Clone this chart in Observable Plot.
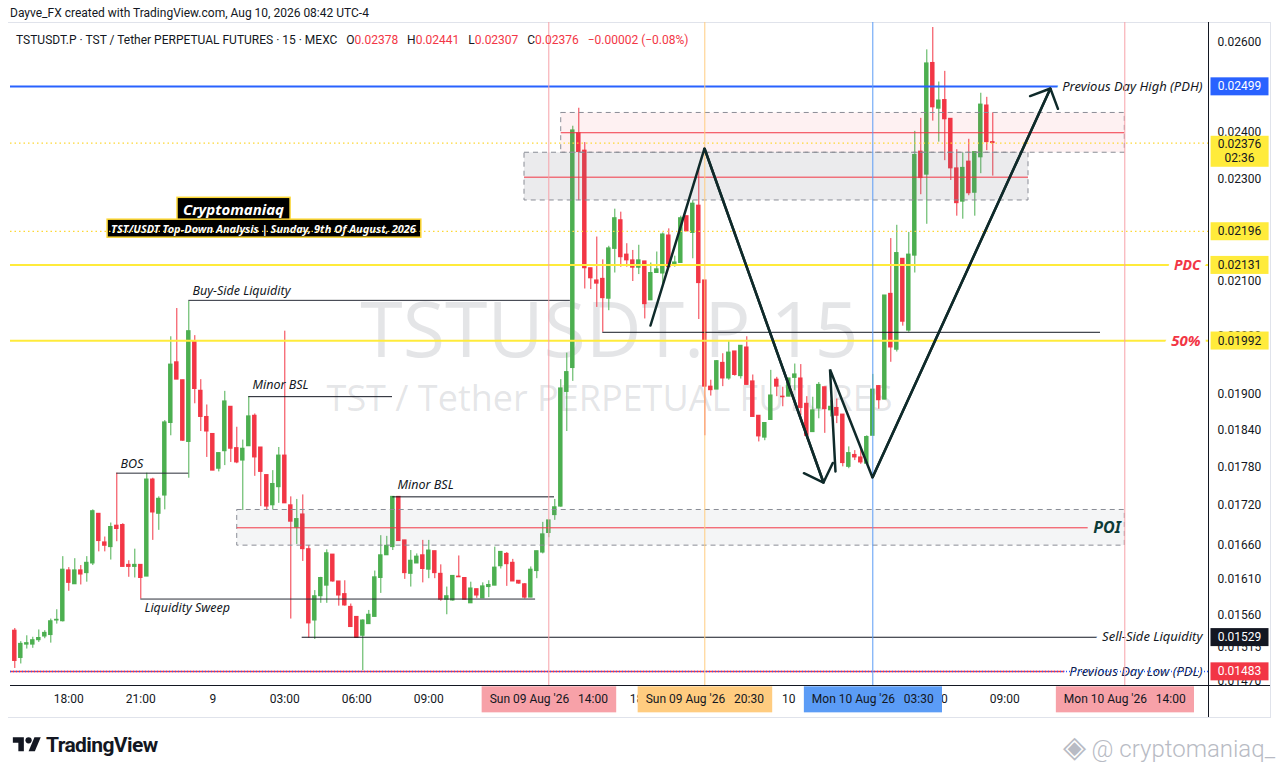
<!DOCTYPE html>
<html><head><meta charset="utf-8">
<script src="https://cdn.jsdelivr.net/npm/d3@7"></script>
<script src="https://cdn.jsdelivr.net/npm/@observablehq/plot@0.6"></script>
<style>
body{margin:0;width:1281px;height:774px;background:#fff;overflow:hidden;position:relative;font-family:Roboto,"Noto Sans",sans-serif;color:#131722}
#credit{position:absolute;left:10px;top:6px;font-size:12px;white-space:nowrap}
#chart{position:absolute;left:0;top:22px}
#sym{position:absolute;left:16px;top:33px;font-size:12px;white-space:pre}
#sym .r{color:#f23645}
.ln{position:absolute;background:#131722}
.lg{position:absolute;background:#e0e3eb}
#tv{position:absolute;left:12px;top:733px;display:flex;align-items:center;gap:4px;font-weight:700;font-size:21px;letter-spacing:-0.6px}
#wm{position:absolute;right:6px;top:729px;font-size:24px;font-weight:300;color:#b8bbc4;white-space:nowrap}
</style></head><body>
<div id="credit">Dayve_FX created with TradingView.com, Aug 10, 2026 08:42 UTC-4</div>
<div class="lg" style="left:8px;top:22px;width:1263px;height:1px"></div>
<div class="lg" style="left:1270px;top:22px;width:1px;height:696px"></div>
<div class="lg" style="left:8px;top:717px;width:1263px;height:1px"></div>
<div id="chart"></div>
<div class="ln" style="left:10px;top:685px;width:1260px;height:1px"></div>
<div class="ln" style="left:1208px;top:22px;width:1px;height:695px"></div>
<div id="sym">TSTUSDT.P · TST / Tether PERPETUAL FUTURES · 15 · MEXC   O<span class="r">0.02378</span>   H<span class="r">0.02441</span>   L<span class="r">0.02307</span>   C<span class="r">0.02376</span>   <span class="r">−0.00002 (−0.08%)</span></div>
<div id="tv"><svg width="30" height="22" viewBox="0 0 36 28"><path d="M14 22H7V11H0V4h14v18z" fill="#131722"/><circle cx="20" cy="8" r="4" fill="#131722"/><path d="M28 22h-8l7.5-18h8L28 22z" fill="#131722"/></svg><span>TradingView</span></div>
<div id="wm"><span style="font-size:30px">◈</span> @ cryptomaniaq_</div>
<script>
// ---- candle data (15m, first candle Aug 8 2026 15:45) ----
const open = [.01538,.01501,.01519,.01519,.01525,.01530,.01532,.01552,.01551,.01623,.01603,.01623,.01619,.01633,.01707,.01664,.01657,.01689,.01690,.01631,.01628,.01631,.01614,.01760,.01707,.01735,.01851,.01954,.01923,.01820,.01991,.01905,.01861,.01833,.01777,.01805,.01878,.01810,.01790,.01813,
.01863,.01811,.01767,.01720,.01748,.01798,.01720,.01686,.01706,.01654,.01552,.01586,.01601,.01646,.01607,.01589,.01571,.01557,.01531,.01547,.01557,.01612,.01645,.01657,.01733,.01667,.01618,.01633,.01645,.01624,
.01651,.01618,.01581,.01580,.01614,.01612,.01576,.01596,.01583,.01599,.01601,.01629,.01647,.01634,.01608,.01603,.01584,.01622,.01649,.01678,.01705,.01718,.01903,.01944,.02397,.02360,.02125,.02102,.02105,.02068,
.02162,.02218,.02151,.02140,.02126,.02138,.02065,.02116,.02115,.02188,.02132,.02135,.02226,.02193,.02247,.02102,.01912,.01907,.01953,.01926,.01973,.01930,.01980,.01921,.01863,.01827,.01856,.01924,.01895,.01895,
.01927,.01926,.01883,.01836,.01875,.01911,.01872,.01876,.01865,.01780,.01799,.01795,.01785,.01830,.01913,.01890,.02077,.01976,.02143,.02010,.02149,.02358,.02310,.02552,.02450,.02469,.02428,.02323,.02255,.02337,
.02273,.02346,.02457,.02378];
const high = [.01541,.01523,.01531,.01529,.01539,.01538,.01554,.01567,.01643,.01627,.01640,.01630,.01643,.01713,.01707,.01672,.01693,.01770,.01692,.01637,.01654,.01631,.01770,.01762,.01733,.01855,.01999,.02050,.01923,.02063,.02001,.01924,.01881,.01833,.01802,.01904,.01878,.01844,.01823,.01895,
.01866,.01811,.01767,.01774,.01811,.02009,.01733,.01729,.01736,.01659,.01594,.01613,.01653,.01646,.01607,.01608,.01575,.01557,.01553,.01566,.01622,.01674,.01673,.01733,.01733,.01667,.01652,.01647,.01667,.01667,
.01651,.01631,.01599,.01615,.01644,.01612,.01606,.01596,.01605,.01608,.01657,.01650,.01649,.01639,.01608,.01604,.01628,.01651,.01694,.01697,.01729,.01924,.01970,.02412,.02451,.02377,.02125,.02185,.02141,.02167,
.02240,.02234,.02172,.02159,.02169,.02138,.02135,.02156,.02193,.02201,.02148,.02226,.02226,.02257,.02329,.02102,.01923,.01957,.01969,.01992,.01973,.01983,.01999,.01932,.01863,.01851,.01940,.01928,.01911,.01926,
.01951,.01950,.01895,.01894,.01919,.01911,.01889,.01891,.01865,.01812,.01806,.01810,.01830,.01933,.01914,.02074,.02182,.02208,.02143,.02194,.02401,.02429,.02582,.02634,.02509,.02533,.02428,.02362,.02355,.02384,
.02357,.02484,.02475,.02441];
const low = [.01487,.01493,.01513,.01514,.01522,.01527,.01521,.01547,.01550,.01593,.01603,.01602,.01606,.01630,.01650,.01650,.01638,.01665,.01628,.01613,.01612,.01582,.01614,.01667,.01682,.01713,.01830,.01924,.01821,.01762,.01883,.01837,.01795,.01774,.01772,.01782,.01787,.01785,.01712,.01813,
.01765,.01718,.01712,.01713,.01723,.01723,.01554,.01661,.01636,.01528,.01526,.01576,.01576,.01606,.01572,.01572,.01543,.01528,.01484,.01547,.01557,.01590,.01645,.01652,.01666,.01610,.01599,.01633,.01605,.01611,
.01611,.01579,.01560,.01579,.01613,.01581,.01576,.01583,.01583,.01584,.01601,.01625,.01600,.01607,.01603,.01582,.01584,.01611,.01647,.01671,.01697,.01717,.01837,.01921,.02257,.02086,.02085,.02052,.02007,.02046,
.02116,.02127,.02127,.02100,.02113,.02031,.02065,.02116,.02092,.02127,.02127,.02135,.02196,.02143,.02030,.01830,.01896,.01907,.01912,.01923,.01930,.01925,.01915,.01861,.01820,.01822,.01856,.01895,.01878,.01895,
.01905,.01863,.01825,.01836,.01858,.01834,.01861,.01850,.01780,.01777,.01790,.01784,.01785,.01830,.01874,.01890,.01954,.01972,.02018,.02007,.02116,.02269,.02210,.02423,.02378,.02339,.02298,.02226,.02220,.02267,
.02226,.02312,.02360,.02307];
const close = [.01497,.01520,.01521,.01525,.01528,.01535,.01551,.01553,.01624,.01605,.01623,.01617,.01634,.01711,.01666,.01659,.01687,.01684,.01628,.01628,.01631,.01612,.01760,.01709,.01730,.01852,.01950,.01924,.01822,.02009,.01908,.01861,.01837,.01774,.01802,.01887,.01809,.01787,.01809,.01862,
.01795,.01772,.01718,.01753,.01798,.01723,.01695,.01699,.01654,.01548,.01586,.01612,.01648,.01607,.01587,.01573,.01543,.01528,.01552,.01560,.01613,.01645,.01659,.01733,.01666,.01619,.01637,.01643,.01625,.01652,
.01619,.01581,.01586,.01615,.01613,.01581,.01597,.01587,.01600,.01602,.01627,.01650,.01632,.01607,.01604,.01584,.01624,.01651,.01676,.01697,.01717,.01909,.01937,.02403,.02357,.02125,.02106,.02096,.02069,.02163,
.02222,.02146,.02140,.02126,.02140,.02058,.02116,.02123,.02190,.02127,.02136,.02222,.02196,.02251,.02097,.01912,.01906,.01956,.01926,.01971,.01932,.01983,.01915,.01861,.01829,.01851,.01897,.01912,.01894,.01926,
.01933,.01876,.01830,.01872,.01915,.01874,.01878,.01863,.01786,.01802,.01795,.01787,.01828,.01907,.01889,.02074,.01980,.02154,.02026,.02151,.02351,.02303,.02551,.02453,.02468,.02427,.02323,.02252,.02324,.02272,
.02357,.02459,.02378,.02376];

// ---- levels (prices) ----
const pdh = 0.02499, lastPrice = 0.02376, lvl2196 = 0.02196, pdc = 0.02131, half = 0.01992, sellSide = 0.01529, pdl = 0.01483;
const countdown = "02:36";
// zones: [startIndex, endIndex, topPrice, bottomPrice, midPrice, midLineEnd]
const pinkZone = [91.07, 185, 0.024407, 0.023556, 0.023980];
const grayZone = [84.95, 168.95, 0.023556, 0.022574, 0.023048];
const poiZone  = [37.07, 185, 0.017128, 0.016592, 0.016858, 178.9];
// segments: [startIndex, endIndex, price]
const bslSeg = [29, 92.6, 0.02065];
const minorBsl1 = [39, 62.95, 0.01895];
const minorBsl2 = [63, 89.95, 0.01733];
const bosSeg = [17, 29, 0.01770];
const sweepSeg = [21, 86.8, 0.01582];
const midSeg = [98, 180.95, 0.02007];
const sellSeg = [47.9, 198.95, sellSide];
// text labels: [index, price, text]
const leftLabels = [[29.6, 0.020819, "Buy-Side Liquidity"], [39.6, 0.01914, "Minor BSL"], [63.8, 0.01751, "Minor BSL"], [17.6, 0.01785, "BOS"], [21.6, 0.01570, "Liquidity Sweep"]];
// zigzag paths: indices and prices
const zz1i = [105.95, 114.95, 134.78], zz1p = [0.020192, 0.023646, 0.017553];
const zz2i = [136.78, 135.87, 142.95, 172.6], zz2p = [0.017726, 0.019414, 0.017631, 0.024945];
// vertical session lines (candle index)
const vPink = [89, 185], vOrange = [115], vBlue = [143];
const dateTagsPink = [[89, "Sun 09 Aug '26\u00a0\u00a0\u00a014:00"], [185, "Mon 10 Aug '26\u00a0\u00a0\u00a014:00"]];
const dateTagOrange = [[115, "Sun 09 Aug '26\u00a0\u00a0\u00a020:30"]];
const dateTagBlue = [[143, "Mon 10 Aug '26\u00a0\u00a0\u00a003:30"]];
const brand = [36.45, 0.022373, "Cryptomaniaq"];
const brandSub = [41.45, 0.022004, "TST/USDT Top-Down Analysis | Sunday, 9th Of August, 2026"];
// axes
const yTicks = [0.026,0.025,0.024,0.023,0.022,0.021,0.020,0.019,0.0184,0.0178,0.0172,0.0166,0.0161,0.0156,0.01515,0.0147];
const xTickTimes = ["2026-08-08T18:00Z","2026-08-08T21:00Z","2026-08-09T00:00Z","2026-08-09T03:00Z","2026-08-09T06:00Z","2026-08-09T09:00Z","2026-08-09T12:00Z","2026-08-09T15:00Z","2026-08-09T18:00Z","2026-08-09T21:00Z","2026-08-10T00:00Z","2026-08-10T03:00Z","2026-08-10T06:00Z","2026-08-10T09:00Z","2026-08-10T12:00Z"];
const xTickLabels = ["18:00","21:00","9","03:00","06:00","09:00","12:00","15:00","18:00","21:00","10","03:00","06:00","09:00","12:00"];

const t0 = Date.UTC(2026, 7, 8, 15, 45);
const STEP = 15 * 60 * 1000;
const T = i => new Date(t0 + i * STEP);
const candles = open.map((o, i) => ({t: T(i), o, h: high[i], l: low[i], c: close[i], up: close[i] >= o}));
const xLab = new Map(xTickTimes.map((s, k) => [+new Date(s), xTickLabels[k]]));
const f5 = d3.format(".5f");
const UP = "#4caf50", DN = "#f23645", INK = "#131722", ZZ = "#0f2a2a";
const drawFont = "'Noto Sans', 'Open Sans', sans-serif";
const seg = (s, o) => Plot.ruleY([s], {x1: d => T(d[0]), x2: d => T(d[1]), y: d => d[2], ...o});
const zoneRect = (z, o) => Plot.rect([z], {x1: d => T(d[0]), x2: d => T(d[1]), y1: d => d[2], y2: d => d[3], stroke: "#8a8d96", strokeDasharray: "5,4", strokeWidth: 1, ...o});
const zoneMid = (z, o) => Plot.ruleY([z], {x1: d => T(d[0]), x2: d => T(d[5] ?? d[1]), y: d => d[4], stroke: "#f23645", strokeWidth: 1, ...o});
const rightLabel = (v, text, o) => Plot.text([v], {y: d => d, text: () => text, frameAnchor: "right", dx: -6, textAnchor: "end", fontFamily: drawFont, fontStyle: "italic", stroke: "white", strokeWidth: 12, paintOrder: "stroke", ...o});
const yTag = (v, text, label, fill, o = {}) => Plot.text([v], {y: d => d, text: () => text, frameAnchor: "right", dx: 31, textAnchor: "middle", fill, fontSize: 12, ariaDescription: label, ...o});
const xTag = (arr, label) => Plot.text(arr, {x: d => T(d[0]), text: d => d[1], frameAnchor: "bottom", dy: 14, textAnchor: "middle", lineAnchor: "middle", fill: INK, fontSize: 12, ariaDescription: label});

const chart = Plot.plot({
  width: 1281, height: 696,
  marginLeft: 10, marginRight: 73, marginTop: 0, marginBottom: 33,
  style: {fontFamily: "Roboto, 'Noto Sans', sans-serif", fontSize: "12px", color: INK, background: "transparent", overflow: "visible"},
  x: {type: "utc", domain: [T(-0.717), T(198.95)], label: null},
  y: {type: "log", domain: [0.014646, 0.026458], label: null},
  color: {type: "identity"},
  marks: [
    // watermark
    Plot.text(["TSTUSDT.P 15"], {text: d => d, frameAnchor: "middle", dy: -22, fontSize: 77, fill: "#787b86", fillOpacity: 0.2, fontFamily: "'Open Sans', sans-serif"}),
    Plot.text(["TST / Tether PERPETUAL FUTURES"], {text: d => d, frameAnchor: "middle", dy: 45, fontSize: 36, fill: "#787b86", fillOpacity: 0.2, fontFamily: "'Open Sans', sans-serif"}),
    // candles
    Plot.ruleX(candles, {x: "t", y1: "l", y2: "h", stroke: d => d.up ? UP : DN, strokeWidth: 1}),
    Plot.rect(candles, {x1: d => new Date(+d.t - 5.6 * 60000), x2: d => new Date(+d.t + 5.6 * 60000), y1: "o", y2: "c", fill: d => d.up ? UP : DN, insetTop: -0.5, insetBottom: -0.5}),
    // zones
    zoneRect(poiZone, {fill: "#787b86", fillOpacity: 0.08}),
    zoneRect(grayZone, {fill: "#787b86", fillOpacity: 0.15}),
    zoneRect(pinkZone, {fill: "#f23645", fillOpacity: 0.07}),
    zoneMid(poiZone), zoneMid(grayZone), zoneMid(pinkZone),
    // brand labels
    Plot.text([brand], {x: d => T(d[0]), y: d => d[1], text: d => d[2], fill: "white", fontSize: 15, fontWeight: "bold", fontStyle: "italic", fontFamily: drawFont, ariaDescription: "brand"}),
    Plot.text([brandSub], {x: d => T(d[0]), y: d => d[1], text: d => d[2], fill: "white", fontSize: 11, fontWeight: "bold", fontStyle: "italic", fontFamily: drawFont, ariaDescription: "brandsub"}),
    // full-width levels
    Plot.ruleY([pdh], {stroke: "#2962ff", strokeWidth: 2}),
    Plot.ruleY([lastPrice], {stroke: "#fdd835", strokeWidth: 1.4, strokeDasharray: "1.5,3"}),
    Plot.ruleY([lvl2196], {stroke: "#fdd835", strokeWidth: 1.4, strokeDasharray: "1.5,3"}),
    Plot.ruleY([pdc], {stroke: "#ffeb3b", strokeWidth: 2}),
    Plot.ruleY([half], {stroke: "#ffeb3b", strokeWidth: 2}),
    Plot.ruleY([pdl], {stroke: "#f23645", strokeWidth: 1.5}),
    // segments
    seg(bslSeg, {stroke: "#2a2e39", strokeWidth: 1}),
    seg(minorBsl1, {stroke: "#131722", strokeWidth: 1}),
    seg(minorBsl2, {stroke: "#131722", strokeWidth: 1}),
    seg(bosSeg, {stroke: "#2a2e39", strokeWidth: 1}),
    seg(sweepSeg, {stroke: "#2a2e39", strokeWidth: 1}),
    seg(midSeg, {stroke: "#131722", strokeWidth: 1}),
    seg(sellSeg, {stroke: "#131722", strokeWidth: 1}),
    // labels
    Plot.text(leftLabels, {x: d => T(d[0]), y: d => d[1], text: d => d[2], textAnchor: "start", fill: INK, fontSize: 12.5, fontStyle: "italic", fontFamily: drawFont}),
    rightLabel(pdh, "Previous Day High (PDH)", {fill: INK, fontSize: 13}),
    rightLabel(pdc, "PDC", {fill: "#f23645", fontSize: 14, fontWeight: "bold", dx: -8}),
    rightLabel(half, "50%", {fill: "#f23645", fontSize: 15, fontWeight: "bold", dx: -8}),
    rightLabel(sellSide, "Sell-Side Liquidity", {fill: INK, fontSize: 13}),
    rightLabel(pdl, "Previous Day Low (PDL)", {fill: "#0d1b4d", fontSize: 13}),
    Plot.ruleY([pdl], {stroke: "#2962ff", strokeWidth: 1.5, strokeDasharray: "1,2"}),
    Plot.text([poiZone], {x: d => T(d[1]), y: d => d[4], text: () => "POI", dx: -4, textAnchor: "end", fill: "#0d3b36", fontSize: 16, fontWeight: "bold", fontStyle: "italic", fontFamily: drawFont}),
    // vertical session lines
    Plot.ruleX(vPink, {x: d => T(d), stroke: "#f7a1a8", strokeWidth: 1}),
    Plot.ruleX(vOrange, {x: d => T(d), stroke: "#ffcc80", strokeWidth: 1}),
    Plot.ruleX(vBlue, {x: d => T(d), stroke: "#5b9cf6", strokeWidth: 1}),
    // zigzags
    Plot.line(zz1i, {x: d => T(d), y: (d, k) => zz1p[k], stroke: ZZ, strokeWidth: 2.5, strokeLinejoin: "miter", curve: "linear"}),
    Plot.arrow([0], {x1: () => T(zz1i[1]), y1: () => zz1p[1], x2: () => T(zz1i[2]), y2: () => zz1p[2], stroke: ZZ, strokeWidth: 2.5, headLength: 13, headAngle: 90}),
    Plot.line(zz2i, {x: d => T(d), y: (d, k) => zz2p[k], stroke: ZZ, strokeWidth: 2.5, strokeLinejoin: "miter", curve: "linear"}),
    Plot.arrow([0], {x1: () => T(zz2i[2]), y1: () => zz2p[2], x2: () => T(zz2i[3]), y2: () => zz2p[3], stroke: ZZ, strokeWidth: 2.5, headLength: 13, headAngle: 90}),
    // axes
    Plot.axisY(yTicks, {anchor: "right", tickSize: 0, tickPadding: 9, tickFormat: f5, fontSize: 12, fill: INK, label: null}),
    Plot.axisX(xTickTimes.map(s => new Date(s)), {anchor: "bottom", tickSize: 0, tickPadding: 9, tickFormat: d => xLab.get(+d), fontSize: 12, fill: INK, label: null}),
    // price tags
    yTag(pdh, f5(pdh), "tag-blue", "white"),
    yTag(lastPrice, f5(lastPrice) + "\n" + countdown, "tag-yellow2", INK, {lineAnchor: "top", dy: -4.5, lineHeight: 1.15}),
    yTag(lvl2196, f5(lvl2196), "tag-yellow", INK),
    yTag(pdc, f5(pdc), "tag-yellow", INK),
    yTag(half, f5(half), "tag-yellow", INK),
    yTag(sellSide, f5(sellSide), "tag-black", "white"),
    yTag(pdl, f5(pdl), "tag-red", "white"),
    // date tags
    xTag(dateTagsPink, "xtag-pink"),
    xTag(dateTagOrange, "xtag-orange"),
    xTag(dateTagBlue, "xtag-blue")
  ]
});
document.getElementById("chart").append(chart);

// backgrounds behind tag texts
const NS = "http://www.w3.org/2000/svg";
const tagStyle = {
  "tag-blue": {fill: "#2962ff", w: 58, h: 18},
  "tag-yellow": {fill: "#ffeb3b", w: 58, h: 18},
  "tag-yellow2": {fill: "#ffeb3b", w: 58, h: 31},
  "tag-black": {fill: "#131722", w: 58, h: 18},
  "tag-red": {fill: "#f23645", w: 58, h: 18},
  "xtag-pink": {fill: "#f7a1a8", padX: 8, h: 26},
  "xtag-orange": {fill: "#ffcc80", padX: 8, h: 26},
  "xtag-blue": {fill: "#5b9cf6", padX: 8, h: 26},
  "brand": {fill: "#000", stroke: "#fdd835", sw: 1.5, padX: 6, padY: 2},
  "brandsub": {fill: "#000", stroke: "#fdd835", sw: 1.5, padX: 4, padY: 1.5}
};
function addBoxes() {
  for (const [label, st] of Object.entries(tagStyle)) {
    chart.querySelectorAll(`[aria-description="${label}"] text`).forEach(t => {
      const b = t.getBBox();
      const W = st.w ?? b.width + 2 * (st.padX ?? 4);
      const H = st.h ?? b.height + 2 * (st.padY ?? 2);
      const r = document.createElementNS(NS, "rect");
      r.setAttribute("x", b.x + b.width / 2 - W / 2);
      r.setAttribute("y", b.y + b.height / 2 - H / 2);
      r.setAttribute("width", W);
      r.setAttribute("height", H);
      r.setAttribute("fill", st.fill);
      if (st.stroke) { r.setAttribute("stroke", st.stroke); r.setAttribute("stroke-width", st.sw); } else r.setAttribute("stroke", "none");
      const tr = t.getAttribute("transform");
      if (tr) r.setAttribute("transform", tr);
      t.parentNode.insertBefore(r, t);
    });
  }
}
addBoxes();
</script>
</body></html>
